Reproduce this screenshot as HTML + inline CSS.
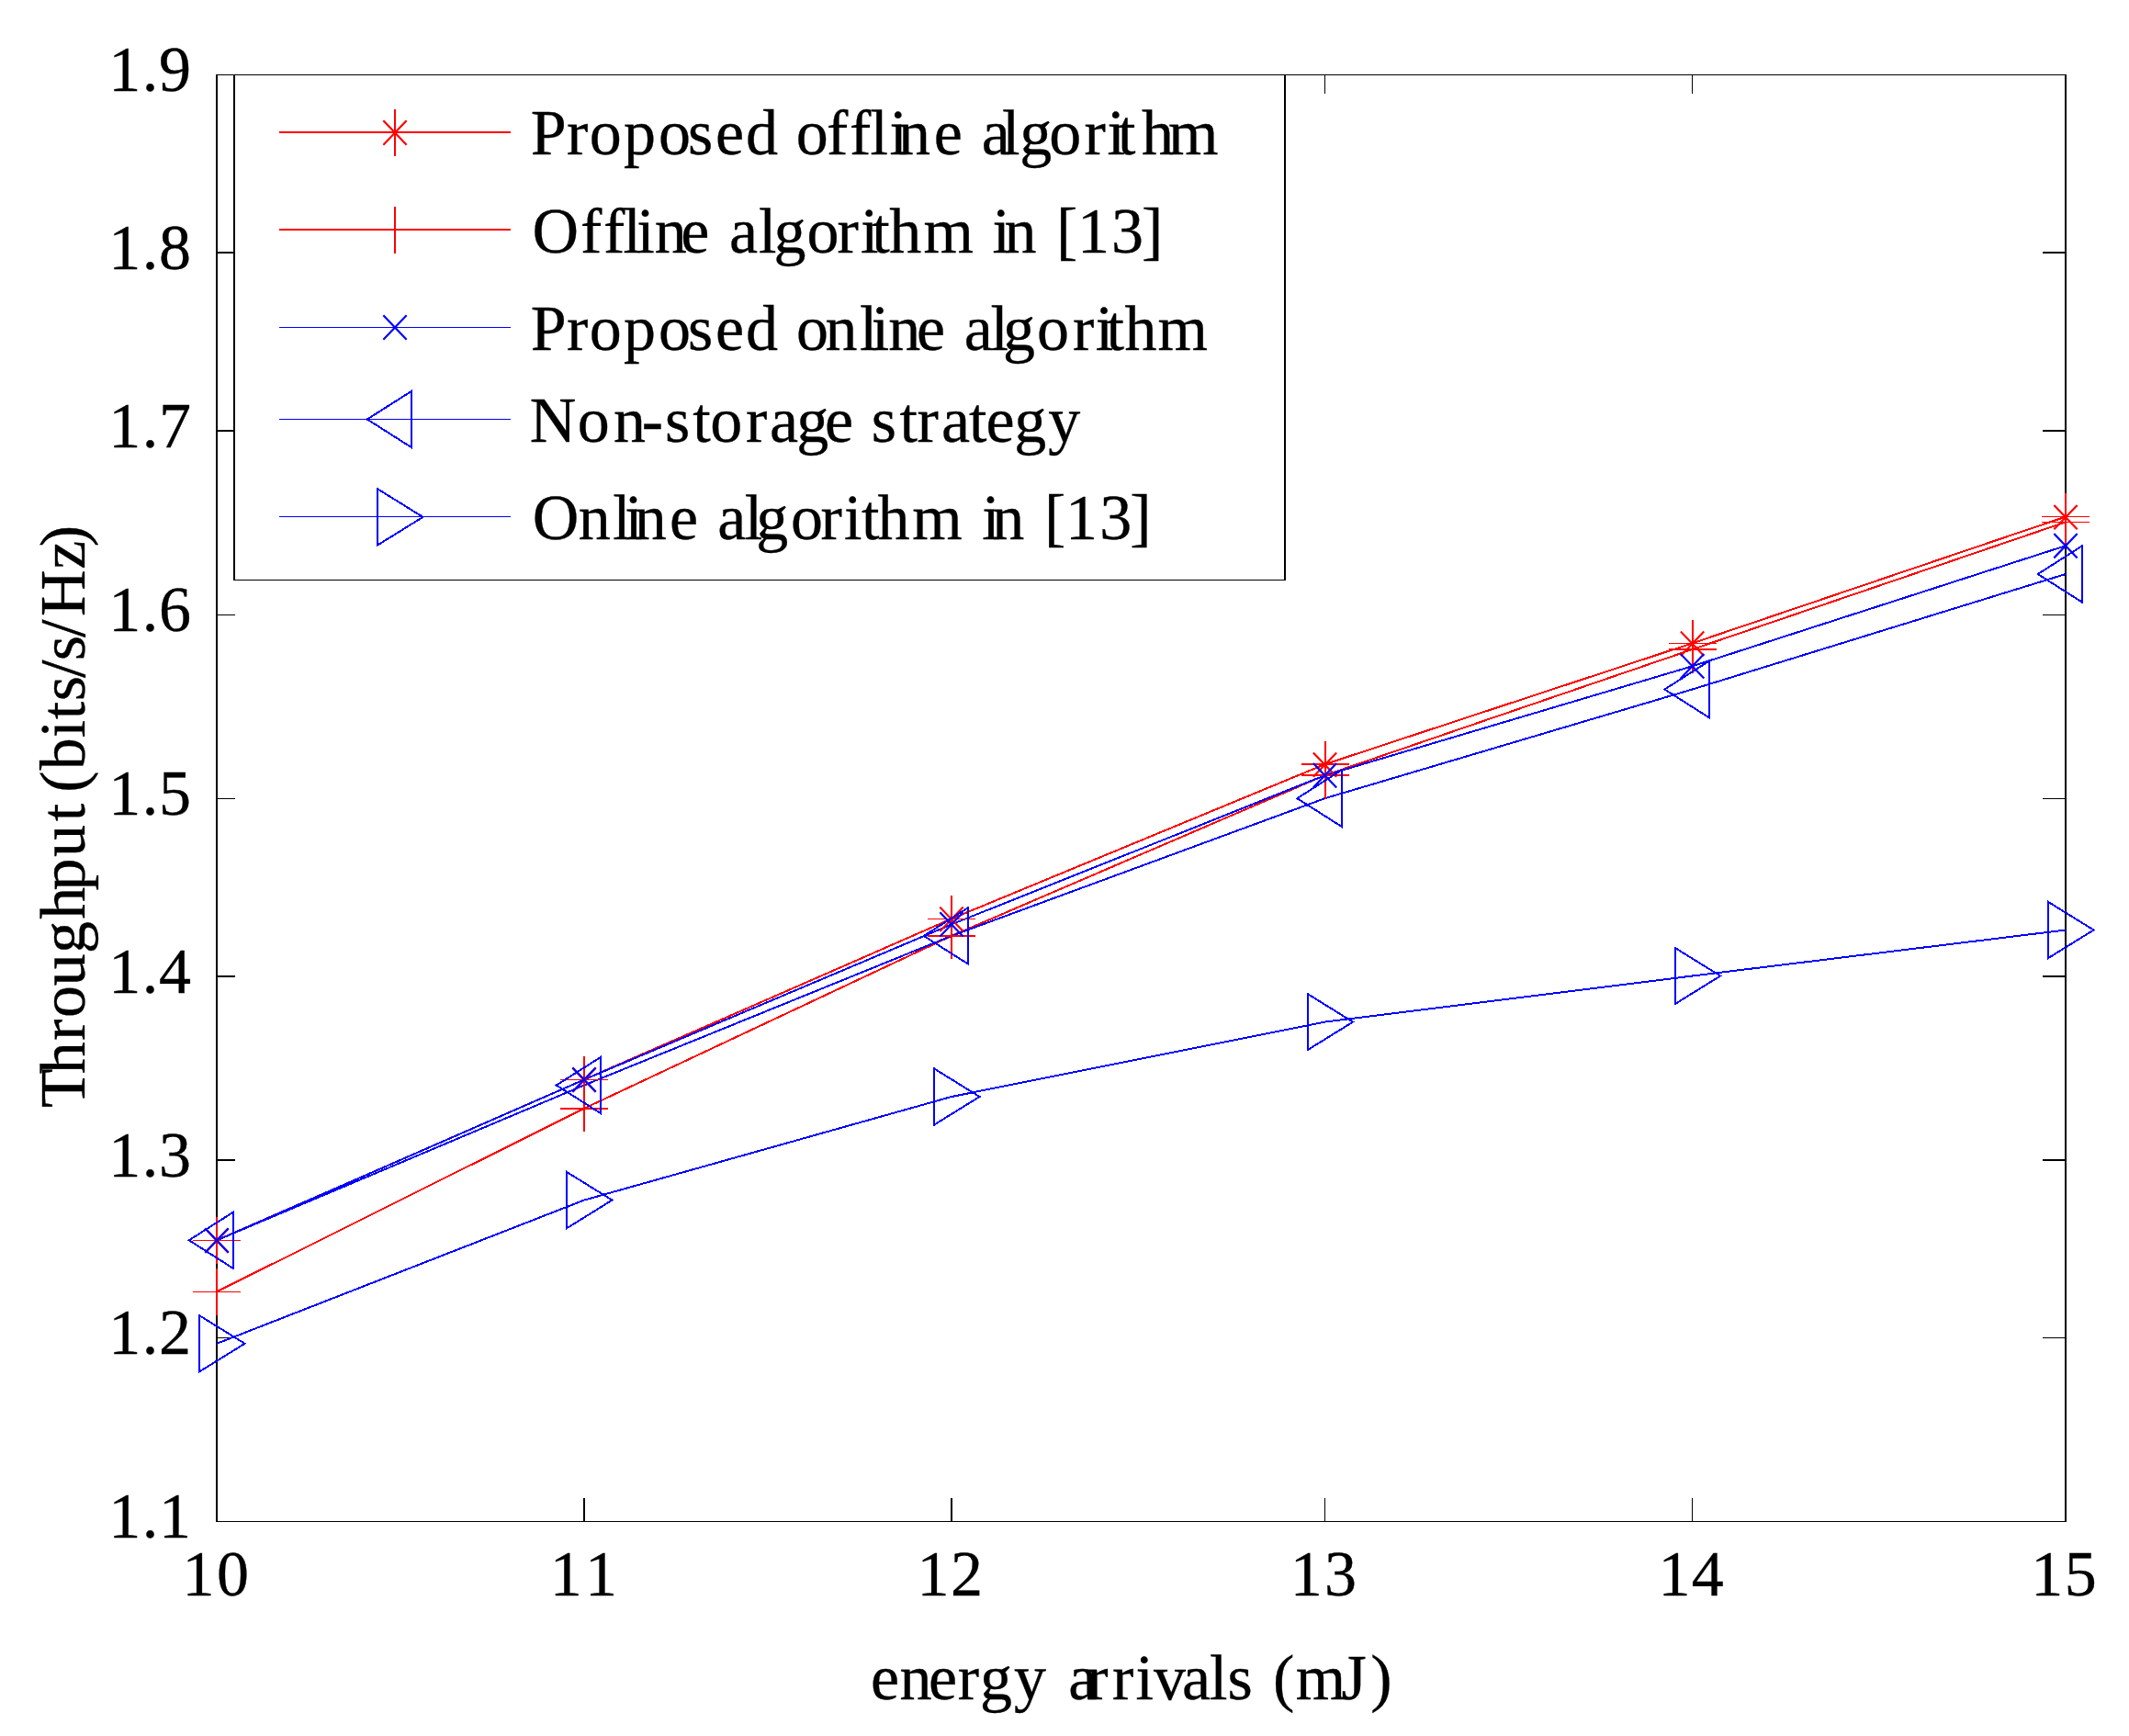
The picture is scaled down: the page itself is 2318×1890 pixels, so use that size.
<!DOCTYPE html>
<html><head><meta charset="utf-8"><title>Throughput vs energy arrivals</title>
<style>
html,body{margin:0;padding:0;background:#fff}
svg{display:block}
text{font-family:"Liberation Serif","Times New Roman",serif;font-size:70px;fill:#000;stroke:#000;stroke-width:0.35px;white-space:pre}
</style></head><body>
<svg width="2318" height="1890" viewBox="0 0 2318 1890" shape-rendering="crispEdges">
<rect width="2318" height="1890" fill="#fff"/>
<rect x="235" y="81" width="2015" height="1" fill="#000"/>
<rect x="235" y="1656" width="2015" height="1" fill="#000"/>
<rect x="235" y="81" width="2" height="1576" fill="#000"/>
<rect x="2248" y="81" width="2" height="1576" fill="#000"/>
<rect x="237" y="274" width="19" height="2" fill="#000"/>
<rect x="2224" y="274" width="24" height="2" fill="#000"/>
<rect x="237" y="468" width="19" height="2" fill="#000"/>
<rect x="2224" y="468" width="24" height="2" fill="#000"/>
<rect x="237" y="669" width="19" height="1" fill="#000"/>
<rect x="2224" y="669" width="24" height="1" fill="#000"/>
<rect x="237" y="869" width="19" height="1" fill="#000"/>
<rect x="2224" y="869" width="24" height="1" fill="#000"/>
<rect x="237" y="1062" width="19" height="2" fill="#000"/>
<rect x="2224" y="1062" width="24" height="2" fill="#000"/>
<rect x="237" y="1262" width="19" height="2" fill="#000"/>
<rect x="2224" y="1262" width="24" height="2" fill="#000"/>
<rect x="237" y="1456" width="19" height="1" fill="#000"/>
<rect x="2224" y="1456" width="24" height="1" fill="#000"/>
<rect x="635" y="1631" width="2" height="25" fill="#000"/>
<rect x="635" y="82" width="2" height="20" fill="#000"/>
<rect x="1035" y="1631" width="2" height="25" fill="#000"/>
<rect x="1035" y="82" width="2" height="20" fill="#000"/>
<rect x="1442" y="1631" width="1" height="25" fill="#000"/>
<rect x="1442" y="82" width="1" height="20" fill="#000"/>
<rect x="1842" y="1631" width="1" height="25" fill="#000"/>
<rect x="1842" y="82" width="1" height="20" fill="#000"/>
<polyline fill="none" stroke="#ff0000" stroke-width="2" points="236.0,1350.3 636.0,1175.4 1036.0,1000.3 1442.5,832.1 1842.6,700.3 2249.0,562.6"/>
<polyline fill="none" stroke="#ff0000" stroke-width="2" points="236.0,1406.3 636.0,1206.8 1036.0,1018.9 1442.5,844.1 1842.6,707.0 2249.0,568.4"/>
<polyline fill="none" stroke="#0000ff" stroke-width="2" points="236.0,1350.4 636.0,1175.4 1036.0,1006.4 1442.5,844.2 1842.6,725.3 2249.0,594.2"/>
<polyline fill="none" stroke="#0000ff" stroke-width="2" points="236.0,1350.3 636.0,1181.5 1036.0,1018.9 1442.5,869.2 1842.6,750.5 2249.0,625.0"/>
<polyline fill="none" stroke="#0000ff" stroke-width="2" points="236.0,1462.8 636.0,1306.6 1036.0,1194.0 1442.5,1112.6 1842.6,1062.5 2249.0,1012.5"/>
<line x1="236.0" y1="1324.8" x2="236.0" y2="1375.8" stroke="#ff0000" stroke-width="2"/>
<line x1="210.0" y1="1350.3" x2="262.0" y2="1350.3" stroke="#ff0000" stroke-width="1.5"/>
<line x1="224.1" y1="1338.4" x2="247.9" y2="1363.2" stroke="#ff0000" stroke-width="2.2" stroke-linecap="square" shape-rendering="geometricPrecision"/>
<line x1="224.1" y1="1363.2" x2="247.9" y2="1338.4" stroke="#ff0000" stroke-width="2.2" stroke-linecap="square" shape-rendering="geometricPrecision"/>
<line x1="636.0" y1="1149.9" x2="636.0" y2="1200.9" stroke="#ff0000" stroke-width="2"/>
<line x1="610.0" y1="1175.4" x2="662.0" y2="1175.4" stroke="#ff0000" stroke-width="1.5"/>
<line x1="624.1" y1="1163.5" x2="647.9" y2="1188.3" stroke="#ff0000" stroke-width="2.2" stroke-linecap="square" shape-rendering="geometricPrecision"/>
<line x1="624.1" y1="1188.3" x2="647.9" y2="1163.5" stroke="#ff0000" stroke-width="2.2" stroke-linecap="square" shape-rendering="geometricPrecision"/>
<line x1="1036.0" y1="974.8" x2="1036.0" y2="1025.8" stroke="#ff0000" stroke-width="2"/>
<line x1="1010.0" y1="1000.3" x2="1062.0" y2="1000.3" stroke="#ff0000" stroke-width="1.5"/>
<line x1="1024.1" y1="988.4" x2="1047.9" y2="1013.2" stroke="#ff0000" stroke-width="2.2" stroke-linecap="square" shape-rendering="geometricPrecision"/>
<line x1="1024.1" y1="1013.2" x2="1047.9" y2="988.4" stroke="#ff0000" stroke-width="2.2" stroke-linecap="square" shape-rendering="geometricPrecision"/>
<line x1="1442.5" y1="806.6" x2="1442.5" y2="857.6" stroke="#ff0000" stroke-width="2"/>
<line x1="1416.5" y1="832.1" x2="1468.5" y2="832.1" stroke="#ff0000" stroke-width="1.5"/>
<line x1="1430.6" y1="820.2" x2="1454.4" y2="845.0" stroke="#ff0000" stroke-width="2.2" stroke-linecap="square" shape-rendering="geometricPrecision"/>
<line x1="1430.6" y1="845.0" x2="1454.4" y2="820.2" stroke="#ff0000" stroke-width="2.2" stroke-linecap="square" shape-rendering="geometricPrecision"/>
<line x1="1842.6" y1="674.8" x2="1842.6" y2="725.8" stroke="#ff0000" stroke-width="2"/>
<line x1="1816.6" y1="700.3" x2="1868.6" y2="700.3" stroke="#ff0000" stroke-width="1.5"/>
<line x1="1830.7" y1="688.4" x2="1854.5" y2="713.2" stroke="#ff0000" stroke-width="2.2" stroke-linecap="square" shape-rendering="geometricPrecision"/>
<line x1="1830.7" y1="713.2" x2="1854.5" y2="688.4" stroke="#ff0000" stroke-width="2.2" stroke-linecap="square" shape-rendering="geometricPrecision"/>
<line x1="2249.0" y1="537.1" x2="2249.0" y2="588.1" stroke="#ff0000" stroke-width="2"/>
<line x1="2223.0" y1="562.6" x2="2275.0" y2="562.6" stroke="#ff0000" stroke-width="1.5"/>
<line x1="2237.1" y1="550.7" x2="2260.9" y2="575.5" stroke="#ff0000" stroke-width="2.2" stroke-linecap="square" shape-rendering="geometricPrecision"/>
<line x1="2237.1" y1="575.5" x2="2260.9" y2="550.7" stroke="#ff0000" stroke-width="2.2" stroke-linecap="square" shape-rendering="geometricPrecision"/>
<line x1="236.0" y1="1380.8" x2="236.0" y2="1431.8" stroke="#ff0000" stroke-width="2"/>
<line x1="210.0" y1="1406.3" x2="262.0" y2="1406.3" stroke="#ff0000" stroke-width="1.5"/>
<line x1="636.0" y1="1181.3" x2="636.0" y2="1232.3" stroke="#ff0000" stroke-width="2"/>
<line x1="610.0" y1="1206.8" x2="662.0" y2="1206.8" stroke="#ff0000" stroke-width="1.5"/>
<line x1="1036.0" y1="993.4" x2="1036.0" y2="1044.4" stroke="#ff0000" stroke-width="2"/>
<line x1="1010.0" y1="1018.9" x2="1062.0" y2="1018.9" stroke="#ff0000" stroke-width="1.5"/>
<line x1="1442.5" y1="818.6" x2="1442.5" y2="869.6" stroke="#ff0000" stroke-width="2"/>
<line x1="1416.5" y1="844.1" x2="1468.5" y2="844.1" stroke="#ff0000" stroke-width="1.5"/>
<line x1="1842.6" y1="681.5" x2="1842.6" y2="732.5" stroke="#ff0000" stroke-width="2"/>
<line x1="1816.6" y1="707.0" x2="1868.6" y2="707.0" stroke="#ff0000" stroke-width="1.5"/>
<line x1="2249.0" y1="542.9" x2="2249.0" y2="593.9" stroke="#ff0000" stroke-width="2"/>
<line x1="2223.0" y1="568.4" x2="2275.0" y2="568.4" stroke="#ff0000" stroke-width="1.5"/>
<line x1="224.1" y1="1338.0" x2="247.9" y2="1362.8" stroke="#0000ff" stroke-width="2.2" stroke-linecap="square" shape-rendering="geometricPrecision"/>
<line x1="224.1" y1="1362.8" x2="247.9" y2="1338.0" stroke="#0000ff" stroke-width="2.2" stroke-linecap="square" shape-rendering="geometricPrecision"/>
<line x1="624.1" y1="1163.0" x2="647.9" y2="1187.8" stroke="#0000ff" stroke-width="2.2" stroke-linecap="square" shape-rendering="geometricPrecision"/>
<line x1="624.1" y1="1187.8" x2="647.9" y2="1163.0" stroke="#0000ff" stroke-width="2.2" stroke-linecap="square" shape-rendering="geometricPrecision"/>
<line x1="1024.1" y1="994.0" x2="1047.9" y2="1018.8" stroke="#0000ff" stroke-width="2.2" stroke-linecap="square" shape-rendering="geometricPrecision"/>
<line x1="1024.1" y1="1018.8" x2="1047.9" y2="994.0" stroke="#0000ff" stroke-width="2.2" stroke-linecap="square" shape-rendering="geometricPrecision"/>
<line x1="1430.6" y1="831.8" x2="1454.4" y2="856.6" stroke="#0000ff" stroke-width="2.2" stroke-linecap="square" shape-rendering="geometricPrecision"/>
<line x1="1430.6" y1="856.6" x2="1454.4" y2="831.8" stroke="#0000ff" stroke-width="2.2" stroke-linecap="square" shape-rendering="geometricPrecision"/>
<line x1="1830.7" y1="712.9" x2="1854.5" y2="737.7" stroke="#0000ff" stroke-width="2.2" stroke-linecap="square" shape-rendering="geometricPrecision"/>
<line x1="1830.7" y1="737.7" x2="1854.5" y2="712.9" stroke="#0000ff" stroke-width="2.2" stroke-linecap="square" shape-rendering="geometricPrecision"/>
<line x1="2237.1" y1="581.8" x2="2260.9" y2="606.6" stroke="#0000ff" stroke-width="2.2" stroke-linecap="square" shape-rendering="geometricPrecision"/>
<line x1="2237.1" y1="606.6" x2="2260.9" y2="581.8" stroke="#0000ff" stroke-width="2.2" stroke-linecap="square" shape-rendering="geometricPrecision"/>
<polygon fill="none" stroke="#0000ff" stroke-width="2.0" points="205.8,1350.3 254.1,1319.6 254.1,1381.0"/>
<polygon fill="none" stroke="#0000ff" stroke-width="2.0" points="605.8,1181.5 654.1,1150.8 654.1,1212.2"/>
<polygon fill="none" stroke="#0000ff" stroke-width="2.0" points="1005.8,1018.9 1054.1,988.2 1054.1,1049.6"/>
<polygon fill="none" stroke="#0000ff" stroke-width="2.0" points="1412.3,869.2 1460.6,838.5 1460.6,899.9"/>
<polygon fill="none" stroke="#0000ff" stroke-width="2.0" points="1812.4,750.5 1860.7,719.8 1860.7,781.2"/>
<polygon fill="none" stroke="#0000ff" stroke-width="2.0" points="2218.8,625.0 2267.1,594.3 2267.1,655.7"/>
<polygon fill="none" stroke="#0000ff" stroke-width="2.0" points="266.5,1462.8 217.1,1432.2 217.1,1493.4"/>
<polygon fill="none" stroke="#0000ff" stroke-width="2.0" points="666.5,1306.6 617.1,1276.0 617.1,1337.2"/>
<polygon fill="none" stroke="#0000ff" stroke-width="2.0" points="1066.5,1194.0 1017.1,1163.4 1017.1,1224.6"/>
<polygon fill="none" stroke="#0000ff" stroke-width="2.0" points="1473.0,1112.6 1423.6,1082.0 1423.6,1143.2"/>
<polygon fill="none" stroke="#0000ff" stroke-width="2.0" points="1873.1,1062.5 1823.7,1031.9 1823.7,1093.1"/>
<polygon fill="none" stroke="#0000ff" stroke-width="2.0" points="2279.5,1012.5 2230.1,981.9 2230.1,1043.1"/>
<rect x="256" y="82" width="1142" height="549" fill="#fff"/>
<rect x="254" y="81" width="2" height="551" fill="#000"/>
<rect x="1398" y="81" width="2" height="551" fill="#000"/>
<rect x="254" y="81" width="1146" height="1" fill="#000"/>
<rect x="254" y="631" width="1146" height="1" fill="#000"/>
<rect x="304" y="143" width="252" height="2" fill="#ff0000"/>
<rect x="304" y="249" width="252" height="2" fill="#ff0000"/>
<rect x="304" y="356" width="252" height="1" fill="#0000ff"/>
<rect x="304" y="456" width="252" height="1" fill="#0000ff"/>
<rect x="304" y="562" width="252" height="1" fill="#0000ff"/>
<line x1="430.0" y1="118.5" x2="430.0" y2="169.5" stroke="#ff0000" stroke-width="2"/>
<line x1="404.0" y1="144.0" x2="456.0" y2="144.0" stroke="#ff0000" stroke-width="1.5"/>
<line x1="418.1" y1="132.1" x2="441.9" y2="156.9" stroke="#ff0000" stroke-width="2.2" stroke-linecap="square" shape-rendering="geometricPrecision"/>
<line x1="418.1" y1="156.9" x2="441.9" y2="132.1" stroke="#ff0000" stroke-width="2.2" stroke-linecap="square" shape-rendering="geometricPrecision"/>
<line x1="430.0" y1="224.5" x2="430.0" y2="275.5" stroke="#ff0000" stroke-width="2"/>
<line x1="404.0" y1="250.0" x2="456.0" y2="250.0" stroke="#ff0000" stroke-width="1.5"/>
<line x1="418.1" y1="344.1" x2="441.9" y2="368.9" stroke="#0000ff" stroke-width="2.2" stroke-linecap="square" shape-rendering="geometricPrecision"/>
<line x1="418.1" y1="368.9" x2="441.9" y2="344.1" stroke="#0000ff" stroke-width="2.2" stroke-linecap="square" shape-rendering="geometricPrecision"/>
<polygon fill="none" stroke="#0000ff" stroke-width="2.0" points="399.8,456.5 448.1,425.8 448.1,487.2"/>
<polygon fill="none" stroke="#0000ff" stroke-width="2.0" points="460.5,562.9 411.1,532.3 411.1,593.5"/>
<text x="577.8 616.9 641.8 678.9 717.0 748.9 778.9 812.1 849.2 866.7 899.9 925.0 947.5 968.5 977.9 1016.8 1051.3 1068.8 1091.1 1110.3 1142.2 1180.6 1205.5 1217.0 1243.1 1272.0" y="168.0">Proposed offline algorithm</text>
<text x="579.4 631.9 657.1 678.5 693.3 712.7 741.3 776.6 794.1 826.1 842.4 878.6 911.4 937.1 949.2 968.3 1005.5 1063.0 1080.5 1093.5 1132.5 1150.0 1173.0 1209.9 1242.9" y="274.5">Offline algorithm in [13]</text>
<text x="577.8 616.9 641.8 678.9 717.0 748.9 778.9 812.1 849.4 866.9 898.4 935.9 948.8 967.2 997.9 1032.3 1049.8 1078.4 1092.0 1129.1 1168.1 1192.8 1204.6 1224.4 1260.5" y="380.8">Proposed online algorithm</text>
<text x="576.8 628.8 667.9 698.8 723.9 754.3 773.2 812.1 837.9 867.2 897.9 931.2 948.7 979.5 998.5 1025.1 1054.9 1073.4 1104.3 1141.3" y="480.6">Non-storage strategy</text>
<text x="579.8 629.8 667.2 680.3 690.7 729.1 763.7 781.2 810.7 823.3 860.9 893.6 919.0 937.9 955.6 993.2 1051.8 1069.3 1080.2 1119.6 1137.1 1159.9 1197.3 1230.3" y="586.8">Online algorithm in [13]</text>
<text x="948.0 979.4 1011.0 1042.8 1066.9 1104.1 1145.7 1163.2 1183.3 1210.9 1236.4 1256.1 1287.1 1317.0 1336.5 1368.6 1386.1 1410.8 1460.5 1492.2" y="1849.9">energy arrivals (mJ)</text>
<text x="118.2 154.7 173.0" y="292.9">1.8</text>
<text x="118.2 154.7 173.0" y="487.1">1.7</text>
<text x="118.2 154.7 173.0" y="687.1">1.6</text>
<text x="118.2 154.7 173.0" y="887.1">1.5</text>
<text x="118.2 154.7 173.0" y="1080.6">1.4</text>
<text x="118.2 154.7 173.0" y="1280.6">1.3</text>
<text x="118.2 154.7 173.0" y="1474.3">1.2</text>
<text x="118.2 154.7 173.0" y="99.2">1.9</text>
<text x="118.2 154.7 173.0" y="1674.1">1.1</text>
<text x="198.6 236.0" y="1737.2">10</text>
<text x="598.7 636.9" y="1737.2">11</text>
<text x="998.6 1035.1" y="1737.2">12</text>
<text x="1404.7 1442.1" y="1737.2">13</text>
<text x="1805.6 1841.7" y="1737.2">14</text>
<text x="2211.2 2247.7" y="1737.2">15</text>
<text transform="translate(92,0) rotate(-90)" x="-1206.1 -1169.3 -1133.0 -1107.9 -1073.4 -1037.9 -1000.7 -969.5 -933.1 -894.3 -880.3 -862.8 -838.3 -803.3 -783.3 -763.2 -737.9 -719.2 -694.0 -671.1 -619.8 -595.2" y="0">Throughput (bits/s/Hz)</text>
</svg>
</body></html>
